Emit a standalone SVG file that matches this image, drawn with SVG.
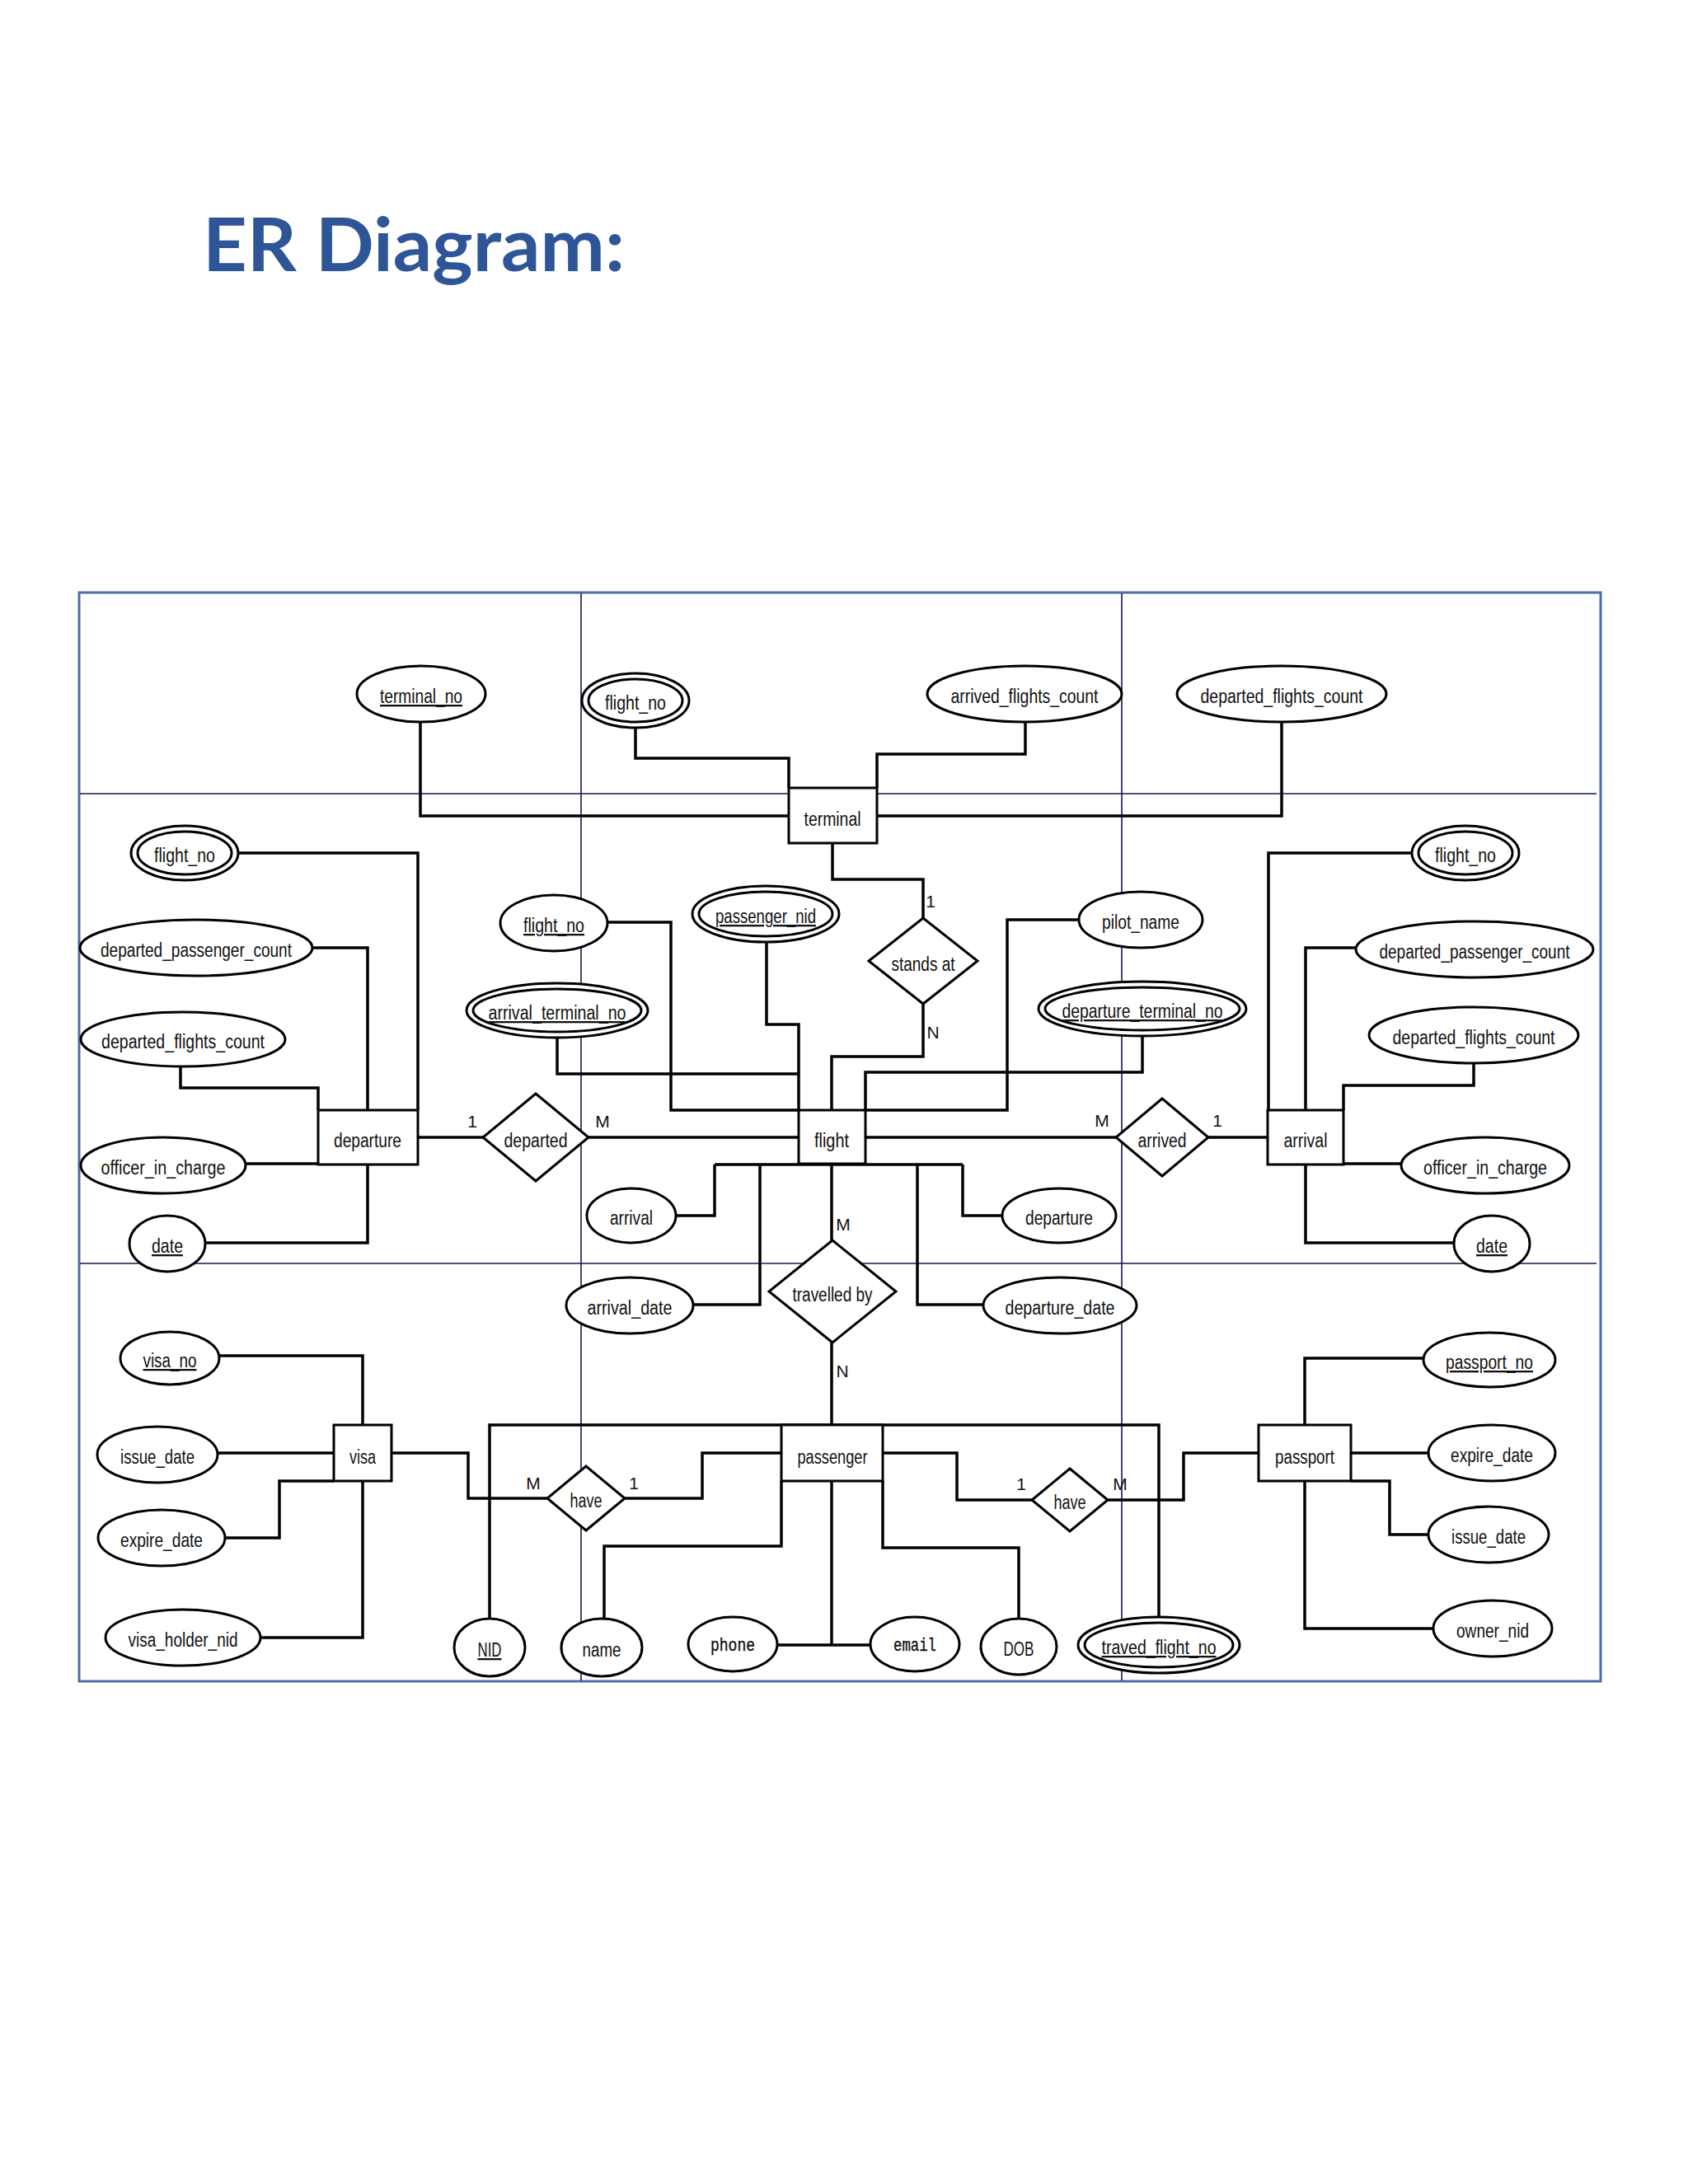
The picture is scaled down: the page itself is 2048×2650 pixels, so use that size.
<svg xmlns="http://www.w3.org/2000/svg" width="2048" height="2650" viewBox="0 0 2048 2650">
<style>
.bg{fill:#fff}
.frame{fill:none;stroke:#4a6fa3;stroke-width:3}
.grid{stroke:#16164a;stroke-width:1.6;fill:none}
.conn{fill:none;stroke:#000;stroke-width:3.5;stroke-linejoin:miter}
.shape{fill:#fff;stroke:#000;stroke-width:3}
.lbl{font-family:"Liberation Sans",Arial,sans-serif;font-size:23px;fill:#111;text-anchor:middle}
.key{text-decoration:underline}
.mono{font-family:"Liberation Mono","Courier New",monospace;font-weight:normal;font-size:22px;stroke:#111;stroke-width:0.4}
.card{font-family:"Liberation Sans",Arial,sans-serif;font-size:21px;fill:#111;text-anchor:middle}
.title{font-family:Lato,"Open Sans",sans-serif;font-weight:bold;font-size:90px;fill:#2e5597}
</style>
<rect class="bg" x="0" y="0" width="2048" height="2650"/>
<text class="title" x="246" y="329" textLength="512" lengthAdjust="spacingAndGlyphs">ER Diagram:</text>
<rect class="frame" x="96" y="719" width="1846" height="1321"/>
<g id="grid">
<line class="grid" x1="705" y1="720" x2="705" y2="2039"/>
<line class="grid" x1="1361" y1="720" x2="1361" y2="2039"/>
<line class="grid" x1="97" y1="963" x2="1937" y2="963"/>
<line class="grid" x1="97" y1="1533" x2="1937" y2="1533"/>
</g>
<g id="connectors">
<polyline class="conn" points="510,876 510,990 957,990"/>
<polyline class="conn" points="771,883 771,920 957,920 957,956"/>
<polyline class="conn" points="1244,876 1244,915 1064,915 1064,956"/>
<polyline class="conn" points="1064,990 1555,990 1555,876"/>
<polyline class="conn" points="1010,1023 1010,1067 1120,1067 1120,1114"/>
<polyline class="conn" points="1120,1218 1120,1282 1009,1282 1009,1347"/>
<polyline class="conn" points="737,1119 814,1119 814,1347 969,1347"/>
<polyline class="conn" points="1309,1116 1222,1116 1222,1347 1050,1347"/>
<polyline class="conn" points="930,1143 930,1243 969,1243 969,1347"/>
<polyline class="conn" points="676,1259 676,1303 969,1303"/>
<polyline class="conn" points="1386,1257 1386,1301 1050,1301 1050,1347"/>
<polyline class="conn" points="969,1380 714,1380"/>
<polyline class="conn" points="586,1380 507,1380"/>
<polyline class="conn" points="1050,1380 1354,1380"/>
<polyline class="conn" points="1466,1380 1538,1380"/>
<polyline class="conn" points="289,1035 507,1035 507,1347"/>
<polyline class="conn" points="379,1150 446,1150 446,1347"/>
<polyline class="conn" points="219,1294 219,1320 386,1320 386,1347"/>
<polyline class="conn" points="298,1412 386,1412"/>
<polyline class="conn" points="248,1508 446,1508 446,1413"/>
<polyline class="conn" points="1713,1035 1539,1035 1539,1347"/>
<polyline class="conn" points="1645,1150 1584,1150 1584,1347"/>
<polyline class="conn" points="1788,1290 1788,1317 1630,1317 1630,1347"/>
<polyline class="conn" points="1630,1412 1700,1412"/>
<polyline class="conn" points="1764,1508 1584,1508 1584,1413"/>
<polyline class="conn" points="867,1413 1168,1413"/>
<polyline class="conn" points="820,1475 867,1475 867,1413"/>
<polyline class="conn" points="841,1583 922,1583 922,1413"/>
<polyline class="conn" points="1216,1475 1168,1475 1168,1413"/>
<polyline class="conn" points="1193,1583 1113,1583 1113,1413"/>
<polyline class="conn" points="1009,1412 1009,1505"/>
<polyline class="conn" points="1009,1629 1009,1729"/>
<polyline class="conn" points="594,1964 594,1729 1406,1729 1406,1962"/>
<polyline class="conn" points="733,1964 733,1876 948,1876 948,1797"/>
<polyline class="conn" points="943,1996 1057,1996"/>
<polyline class="conn" points="1009,1797 1009,1996"/>
<polyline class="conn" points="1236,1964 1236,1878 1071,1878 1071,1797"/>
<polyline class="conn" points="948,1763 852,1763 852,1818 758,1818"/>
<polyline class="conn" points="664,1818 568,1818 568,1763 475,1763"/>
<polyline class="conn" points="266,1645 440,1645 440,1729"/>
<polyline class="conn" points="264,1763 405,1763"/>
<polyline class="conn" points="273,1866 339,1866 339,1797 405,1797"/>
<polyline class="conn" points="316,1987 440,1987 440,1797"/>
<polyline class="conn" points="1071,1763 1161,1763 1161,1820 1252,1820"/>
<polyline class="conn" points="1344,1820 1436,1820 1436,1763 1527,1763"/>
<polyline class="conn" points="1727,1648 1583,1648 1583,1729"/>
<polyline class="conn" points="1639,1763 1733,1763"/>
<polyline class="conn" points="1639,1797 1686,1797 1686,1862 1733,1862"/>
<polyline class="conn" points="1583,1797 1583,1976 1739,1976"/>
</g>
<g id="cardinalities">
<text class="card" x="1129" y="1101">1</text>
<text class="card" x="1132" y="1260">N</text>
<text class="card" x="573" y="1368">1</text>
<text class="card" x="731" y="1368">M</text>
<text class="card" x="1337" y="1367">M</text>
<text class="card" x="1477" y="1367">1</text>
<text class="card" x="1023" y="1493">M</text>
<text class="card" x="1022" y="1671">N</text>
<text class="card" x="647" y="1807">M</text>
<text class="card" x="769" y="1807">1</text>
<text class="card" x="1239" y="1808">1</text>
<text class="card" x="1359" y="1808">M</text>
</g>
<g id="entity-terminal"><rect class="shape" x="957" y="956" width="107" height="67"/><text class="lbl" x="1010" y="1002" textLength="69" lengthAdjust="spacingAndGlyphs">terminal</text></g>
<g id="entity-departure"><rect class="shape" x="386" y="1347" width="121" height="66"/><text class="lbl" x="446" y="1392" textLength="82" lengthAdjust="spacingAndGlyphs">departure</text></g>
<g id="entity-flight"><rect class="shape" x="969" y="1347" width="81" height="65"/><text class="lbl" x="1009" y="1392" textLength="42" lengthAdjust="spacingAndGlyphs">flight</text></g>
<g id="entity-arrival"><rect class="shape" x="1538" y="1347" width="92" height="66"/><text class="lbl" x="1584" y="1392" textLength="53" lengthAdjust="spacingAndGlyphs">arrival</text></g>
<g id="entity-visa"><rect class="shape" x="405" y="1729" width="70" height="68"/><text class="lbl" x="440" y="1776" textLength="32" lengthAdjust="spacingAndGlyphs">visa</text></g>
<g id="entity-passenger"><rect class="shape" x="948" y="1729" width="123" height="68"/><text class="lbl" x="1010" y="1776" textLength="85" lengthAdjust="spacingAndGlyphs">passenger</text></g>
<g id="entity-passport"><rect class="shape" x="1527" y="1729" width="112" height="68"/><text class="lbl" x="1583" y="1776" textLength="72" lengthAdjust="spacingAndGlyphs">passport</text></g>
<g id="rel-stands-at"><polygon class="shape" points="1120,1114 1186,1166 1120,1218 1054,1166"/><text class="lbl" x="1120" y="1178" textLength="77" lengthAdjust="spacingAndGlyphs">stands at</text></g>
<g id="rel-departed"><polygon class="shape" points="650,1327 714,1380 650,1433 586,1380"/><text class="lbl" x="650" y="1392" textLength="77" lengthAdjust="spacingAndGlyphs">departed</text></g>
<g id="rel-arrived"><polygon class="shape" points="1410,1333 1466,1380 1410,1427 1354,1380"/><text class="lbl" x="1410" y="1392" textLength="59" lengthAdjust="spacingAndGlyphs">arrived</text></g>
<g id="rel-travelled-by"><polygon class="shape" points="1010,1505 1087,1567 1010,1629 933,1567"/><text class="lbl" x="1010" y="1579" textLength="97" lengthAdjust="spacingAndGlyphs">travelled by</text></g>
<g id="rel-have-visa"><polygon class="shape" points="711,1779 758,1818 711,1857 664,1818"/><text class="lbl" x="711" y="1829" textLength="39" lengthAdjust="spacingAndGlyphs">have</text></g>
<g id="rel-have-passport"><polygon class="shape" points="1298,1782 1344,1820 1298,1858 1252,1820"/><text class="lbl" x="1298" y="1831" textLength="39" lengthAdjust="spacingAndGlyphs">have</text></g>
<g id="attr-terminal_no"><ellipse class="shape" cx="511" cy="842" rx="78" ry="34"/><text class="lbl key" x="511" y="853" textLength="100" lengthAdjust="spacingAndGlyphs">terminal_no</text></g>
<g id="attr-terminal-flight_no"><ellipse class="shape" cx="771" cy="850" rx="65" ry="33"/><ellipse class="shape" cx="771" cy="850" rx="57" ry="26"/><text class="lbl" x="771" y="861" textLength="74" lengthAdjust="spacingAndGlyphs">flight_no</text></g>
<g id="attr-arrived_flights_count"><ellipse class="shape" cx="1243" cy="842" rx="118" ry="34"/><text class="lbl" x="1243" y="853" textLength="179" lengthAdjust="spacingAndGlyphs">arrived_flights_count</text></g>
<g id="attr-terminal-departed_flights_count"><ellipse class="shape" cx="1555" cy="842" rx="127" ry="34"/><text class="lbl" x="1555" y="853" textLength="197" lengthAdjust="spacingAndGlyphs">departed_flights_count</text></g>
<g id="attr-departure-flight_no"><ellipse class="shape" cx="224" cy="1035" rx="65" ry="33"/><ellipse class="shape" cx="224" cy="1035" rx="57" ry="26"/><text class="lbl" x="224" y="1046" textLength="74" lengthAdjust="spacingAndGlyphs">flight_no</text></g>
<g id="attr-departure-departed_passenger_count"><ellipse class="shape" cx="238" cy="1150" rx="141" ry="34"/><text class="lbl" x="238" y="1161" textLength="232" lengthAdjust="spacingAndGlyphs">departed_passenger_count</text></g>
<g id="attr-departure-departed_flights_count"><ellipse class="shape" cx="222" cy="1261" rx="124" ry="33"/><text class="lbl" x="222" y="1272" textLength="198" lengthAdjust="spacingAndGlyphs">departed_flights_count</text></g>
<g id="attr-departure-officer_in_charge"><ellipse class="shape" cx="198" cy="1414" rx="100" ry="34"/><text class="lbl" x="198" y="1425" textLength="151" lengthAdjust="spacingAndGlyphs">officer_in_charge</text></g>
<g id="attr-departure-date"><ellipse class="shape" cx="203" cy="1509" rx="46" ry="34"/><text class="lbl key" x="203" y="1520" textLength="38" lengthAdjust="spacingAndGlyphs">date</text></g>
<g id="attr-flight-flight_no"><ellipse class="shape" cx="672" cy="1120" rx="65" ry="34"/><text class="lbl key" x="672" y="1131" textLength="74" lengthAdjust="spacingAndGlyphs">flight_no</text></g>
<g id="attr-passenger_nid"><ellipse class="shape" cx="929" cy="1109" rx="89" ry="34"/><ellipse class="shape" cx="929" cy="1109" rx="81" ry="27"/><text class="lbl key" x="929" y="1120" textLength="122" lengthAdjust="spacingAndGlyphs">passenger_nid</text></g>
<g id="attr-arrival_terminal_no"><ellipse class="shape" cx="676" cy="1226" rx="110" ry="33"/><ellipse class="shape" cx="676" cy="1226" rx="102" ry="26"/><text class="lbl key" x="676" y="1237" textLength="167" lengthAdjust="spacingAndGlyphs">arrival_terminal_no</text></g>
<g id="attr-pilot_name"><ellipse class="shape" cx="1384" cy="1116" rx="75" ry="34"/><text class="lbl" x="1384" y="1127" textLength="94" lengthAdjust="spacingAndGlyphs">pilot_name</text></g>
<g id="attr-departure_terminal_no"><ellipse class="shape" cx="1386" cy="1224" rx="126" ry="33"/><ellipse class="shape" cx="1386" cy="1224" rx="118" ry="26"/><text class="lbl key" x="1386" y="1235" textLength="195" lengthAdjust="spacingAndGlyphs">departure_terminal_no</text></g>
<g id="attr-flight-arrival"><ellipse class="shape" cx="766" cy="1475" rx="54" ry="33"/><text class="lbl" x="766" y="1486" textLength="52" lengthAdjust="spacingAndGlyphs">arrival</text></g>
<g id="attr-flight-departure"><ellipse class="shape" cx="1285" cy="1475" rx="69" ry="33"/><text class="lbl" x="1285" y="1486" textLength="82" lengthAdjust="spacingAndGlyphs">departure</text></g>
<g id="attr-arrival-flight_no"><ellipse class="shape" cx="1778" cy="1035" rx="65" ry="33"/><ellipse class="shape" cx="1778" cy="1035" rx="57" ry="26"/><text class="lbl" x="1778" y="1046" textLength="74" lengthAdjust="spacingAndGlyphs">flight_no</text></g>
<g id="attr-arrival-departed_passenger_count"><ellipse class="shape" cx="1789" cy="1152" rx="144" ry="34"/><text class="lbl" x="1789" y="1163" textLength="231" lengthAdjust="spacingAndGlyphs">departed_passenger_count</text></g>
<g id="attr-arrival-departed_flights_count"><ellipse class="shape" cx="1788" cy="1256" rx="127" ry="34"/><text class="lbl" x="1788" y="1267" textLength="197" lengthAdjust="spacingAndGlyphs">departed_flights_count</text></g>
<g id="attr-arrival-officer_in_charge"><ellipse class="shape" cx="1802" cy="1414" rx="102" ry="34"/><text class="lbl" x="1802" y="1425" textLength="150" lengthAdjust="spacingAndGlyphs">officer_in_charge</text></g>
<g id="attr-arrival-date"><ellipse class="shape" cx="1810" cy="1509" rx="46" ry="34"/><text class="lbl key" x="1810" y="1520" textLength="38" lengthAdjust="spacingAndGlyphs">date</text></g>
<g id="attr-arrival_date"><ellipse class="shape" cx="764" cy="1584" rx="77" ry="34"/><text class="lbl" x="764" y="1595" textLength="103" lengthAdjust="spacingAndGlyphs">arrival_date</text></g>
<g id="attr-departure_date"><ellipse class="shape" cx="1286" cy="1584" rx="93" ry="34"/><text class="lbl" x="1286" y="1595" textLength="133" lengthAdjust="spacingAndGlyphs">departure_date</text></g>
<g id="attr-visa_no"><ellipse class="shape" cx="206" cy="1648" rx="60" ry="32"/><text class="lbl key" x="206" y="1659" textLength="65" lengthAdjust="spacingAndGlyphs">visa_no</text></g>
<g id="attr-visa-issue_date"><ellipse class="shape" cx="191" cy="1765" rx="73" ry="34"/><text class="lbl" x="191" y="1776" textLength="90" lengthAdjust="spacingAndGlyphs">issue_date</text></g>
<g id="attr-visa-expire_date"><ellipse class="shape" cx="196" cy="1866" rx="77" ry="34"/><text class="lbl" x="196" y="1877" textLength="100" lengthAdjust="spacingAndGlyphs">expire_date</text></g>
<g id="attr-visa_holder_nid"><ellipse class="shape" cx="222" cy="1987" rx="94" ry="34"/><text class="lbl" x="222" y="1998" textLength="133" lengthAdjust="spacingAndGlyphs">visa_holder_nid</text></g>
<g id="attr-NID"><ellipse class="shape" cx="594" cy="1999" rx="43" ry="35"/><text class="lbl key" x="594" y="2010" textLength="29" lengthAdjust="spacingAndGlyphs">NID</text></g>
<g id="attr-name"><ellipse class="shape" cx="730" cy="1999" rx="49" ry="35"/><text class="lbl" x="730" y="2010" textLength="47" lengthAdjust="spacingAndGlyphs">name</text></g>
<g id="attr-phone"><ellipse class="shape" cx="889" cy="1995" rx="54" ry="33"/><text class="lbl mono" x="889" y="2003" textLength="54" lengthAdjust="spacingAndGlyphs">phone</text></g>
<g id="attr-email"><ellipse class="shape" cx="1110" cy="1995" rx="54" ry="33"/><text class="lbl mono" x="1110" y="2003" textLength="52" lengthAdjust="spacingAndGlyphs">email</text></g>
<g id="attr-DOB"><ellipse class="shape" cx="1236" cy="1998" rx="46" ry="34"/><text class="lbl" x="1236" y="2009" textLength="37" lengthAdjust="spacingAndGlyphs">DOB</text></g>
<g id="attr-traved_flight_no"><ellipse class="shape" cx="1406" cy="1996" rx="98" ry="34"/><ellipse class="shape" cx="1406" cy="1996" rx="90" ry="27"/><text class="lbl key" x="1406" y="2007" textLength="139" lengthAdjust="spacingAndGlyphs">traved_flight_no</text></g>
<g id="attr-passport_no"><ellipse class="shape" cx="1807" cy="1650" rx="80" ry="33"/><text class="lbl key" x="1807" y="1661" textLength="106" lengthAdjust="spacingAndGlyphs">passport_no</text></g>
<g id="attr-passport-expire_date"><ellipse class="shape" cx="1810" cy="1763" rx="77" ry="34"/><text class="lbl" x="1810" y="1774" textLength="100" lengthAdjust="spacingAndGlyphs">expire_date</text></g>
<g id="attr-passport-issue_date"><ellipse class="shape" cx="1806" cy="1862" rx="73" ry="34"/><text class="lbl" x="1806" y="1873" textLength="90" lengthAdjust="spacingAndGlyphs">issue_date</text></g>
<g id="attr-owner_nid"><ellipse class="shape" cx="1811" cy="1976" rx="72" ry="34"/><text class="lbl" x="1811" y="1987" textLength="88" lengthAdjust="spacingAndGlyphs">owner_nid</text></g>
</svg>
